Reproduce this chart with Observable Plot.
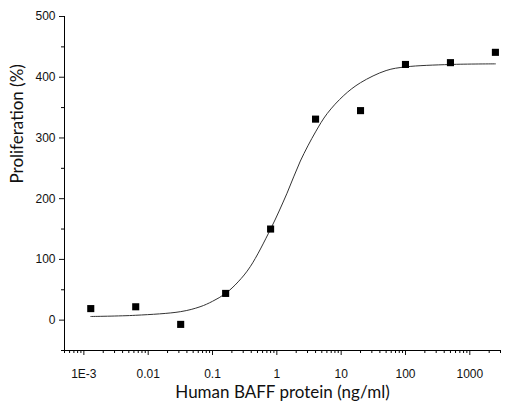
<!DOCTYPE html>
<html>
<head>
<meta charset="utf-8">
<script src="https://cdn.jsdelivr.net/npm/d3@7"></script>
<script src="https://cdn.jsdelivr.net/npm/@observablehq/plot@0.6"></script>
<style>
  body { margin: 0; background: #fff; }
</style>
</head>
<body>
<div id="chart"></div>
<script>
// measured points (5-fold dilution series)
const conc = [0.00128, 0.0064, 0.032, 0.16, 0.8, 4, 20, 100, 500, 2500]
const prolif = [19, 22, -7, 44, 150, 331, 345, 421, 424, 441]

// fitted curve
const fitConc = [0.00128, 0.0064, 0.032, 0.064, 0.1, 0.16, 0.25, 0.386, 0.8, 1.44, 2.32, 4, 6.05, 11, 20, 50, 100, 500, 2500]
const fitProlif = [6, 8, 14, 22, 31, 44, 63, 88, 150, 209, 262, 310, 340, 370, 391, 411, 417, 421, 422]

const xMajor = [0.001, 0.01, 0.1, 1, 10, 100, 1000]
const xLabels = ["1E-3", "0.01", "0.1", "1", "10", "100", "1000"]
const yMajor = [0, 100, 200, 300, 400, 500]
const yMinor = [-50, 50, 150, 250, 350, 450]

const xDomain = [0.0005, 3000]
const yDomain = [-50, 500]

const xMinor = [0.0001, ...xMajor].flatMap(d => [2, 3, 4, 5, 6, 7, 8, 9].map(k => k * d))
  .filter(v => v >= xDomain[0] && v <= xDomain[1])

const points = conc.map((x, i) => ({x, y: prolif[i]}))
const fit = fitConc.map((x, i) => ({x, y: fitProlif[i]}))

const tickFont = "'Liberation Sans', Arial, sans-serif"
const titleFont = "Lato, 'Open Sans', sans-serif"

let chart = Plot.plot({
  width: 520,
  height: 420,
  marginLeft: 64,
  marginRight: 20,
  marginTop: 16,
  marginBottom: 70,
  x: {type: "log", domain: xDomain},
  y: {domain: yDomain},
  style: {background: "#fff", color: "#000"},
  marks: [
    Plot.axisY({ticks: yMinor, tickSize: 3, text: null, label: null, color: "#000"}),
    Plot.axisY({
      ticks: yMajor, tickSize: 5, tickPadding: 4, label: null,
      tickFormat: d => String(d), fontSize: 12, fontFamily: tickFont, color: "#111"
    }),
    Plot.axisX({ticks: xMinor, tickSize: 3, text: null, label: null, color: "#000"}),
    Plot.axisX({
      ticks: xMajor, tickSize: 5, tickPadding: 14, label: null,
      tickFormat: d => xLabels[xMajor.indexOf(d)], fontSize: 12, fontFamily: tickFont, color: "#111"
    }),
    Plot.ruleX([xDomain[0]], {stroke: "#000", strokeWidth: 1}),
    Plot.ruleY([yDomain[0]], {stroke: "#000", strokeWidth: 1}),
    Plot.line(fit, {x: "x", y: "y", curve: "catmull-rom", stroke: "#333", strokeWidth: 1}),
    Plot.dot(points, {x: "x", y: "y", symbol: "square", r: 4, fill: "#000", stroke: "none"}),
    Plot.text(["Human BAFF protein (ng/ml)"], {
      text: d => d, frameAnchor: "bottom", dy: 47, fontSize: 17, fontFamily: titleFont, fill: "#111"
    }),
    Plot.text(["Proliferation (%)"], {
      text: d => d, frameAnchor: "left", dx: -47, rotate: -90, fontSize: 17, fontFamily: titleFont, fill: "#111"
    })
  ]
});

d3.select("#chart").append(() => chart);
</script>
</body>
</html>
